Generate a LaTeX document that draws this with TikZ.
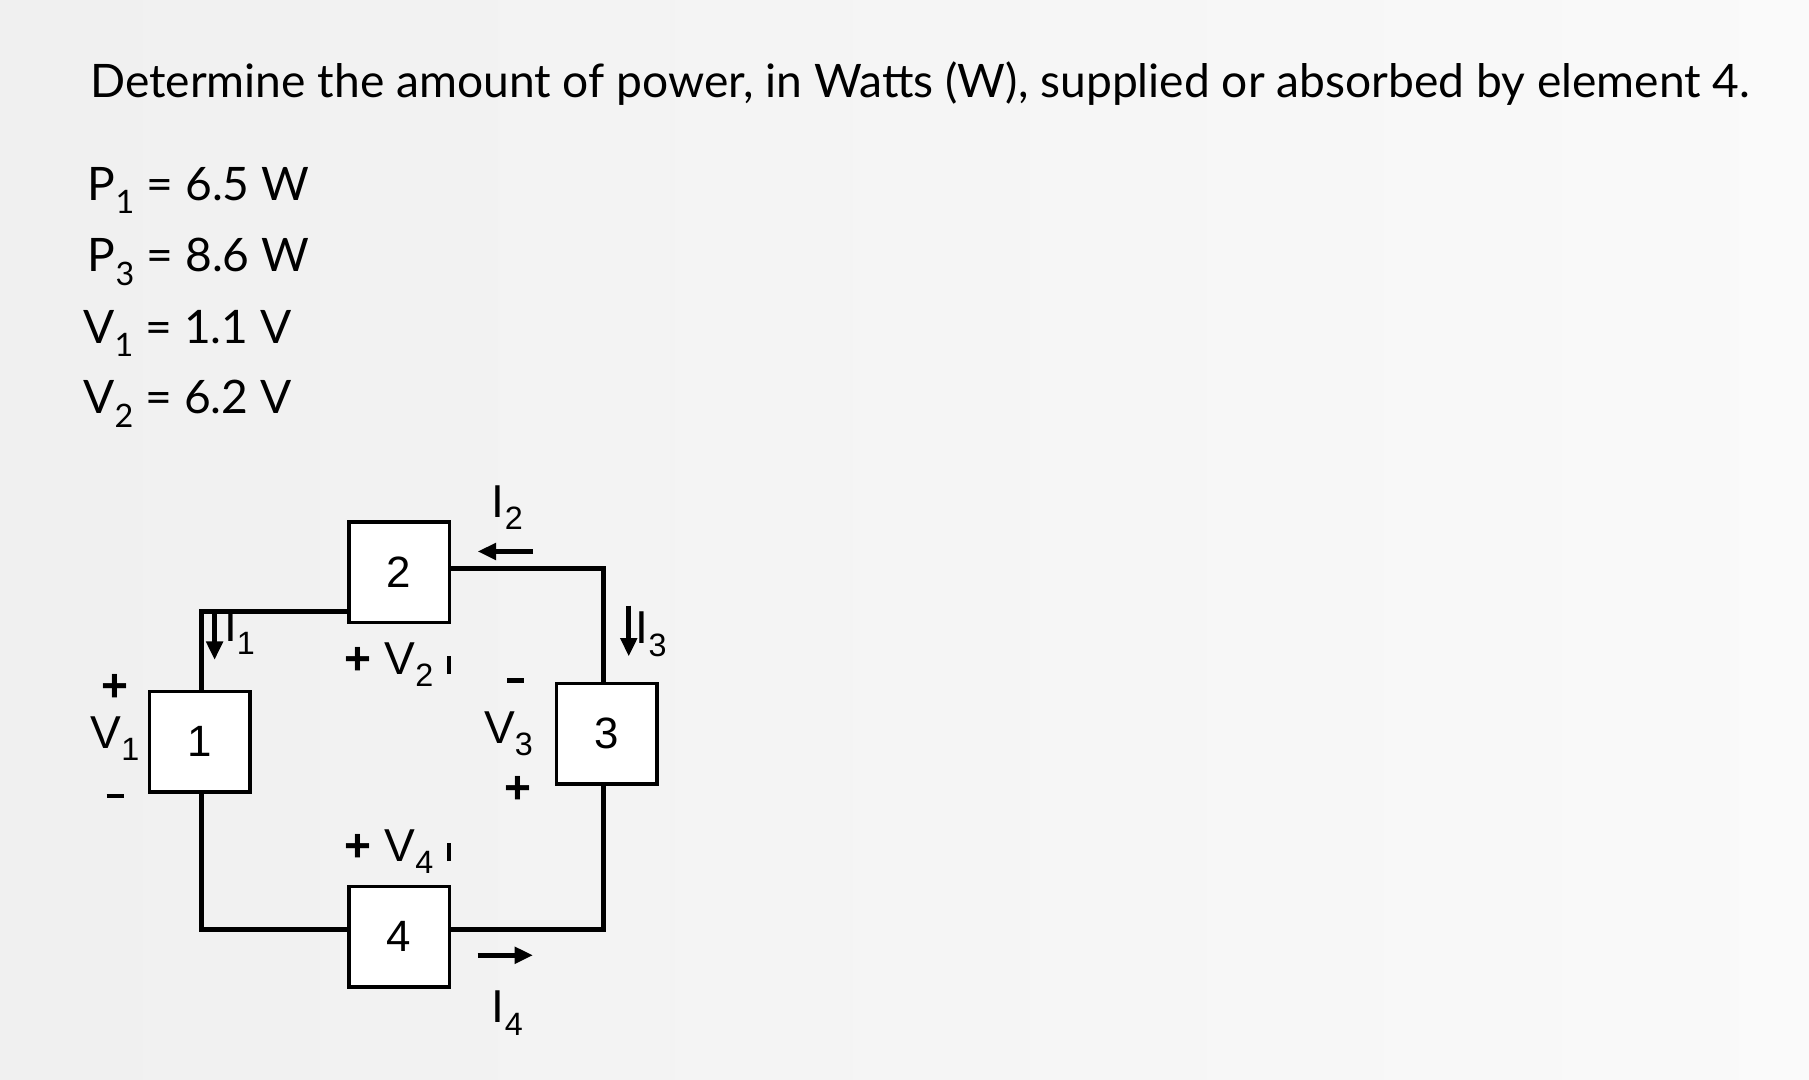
\documentclass[tikz,border=0pt]{standalone}
\usepackage{fontspec}
\setmainfont{Lato}
\newfontfamily\arial{Liberation Sans}
\usetikzlibrary{arrows.meta}
\begin{document}
\begin{tikzpicture}[x=1pt,y=-1pt,
  wire/.style={line width=4.5pt},
  elem/.style={draw,line width=3pt,fill=white,minimum width=87pt,minimum height=87pt,inner sep=0pt,font=\arial\fontsize{38}{42}\selectfont},
  lbl/.style={font=\arial\fontsize{40}{44}\selectfont,inner sep=0pt},
  given/.style={font=\fontsize{40}{46}\selectfont,anchor=west,inner sep=0pt},
  cur/.style={line width=4pt,-{Triangle[length=16pt,width=14pt]}}]
\useasboundingbox (0,0) rectangle (1568,936);
\shade[left color=gray!12,right color=gray!4] (0,0) rectangle (1568,936);
\node[given] (title) at (78,72) {Determine the amount of power, in Watts (W), supplied or absorbed by element 4.};
\node[given] (p1) at (76,165) {P\textsubscript{1} = 6.5 W};
\node[given] (p3) at (76,227) {P\textsubscript{3} = 8.6 W};
\node[given] (v1) at (72,289) {V\textsubscript{1} = 1.1 V};
\node[given] (v2) at (72,350) {V\textsubscript{2} = 6.2 V};
% wires
\coordinate (tl) at (175,530);
\coordinate (bl) at (175,806);
\coordinate (tr) at (523,493);
\coordinate (br) at (523,806);
\node[elem] (e2) at (346,496) {2};
\node[elem] (e1) at (173,643) {1};
\node[elem] (e3) at (526,636) {3};
\node[elem] (e4) at (346,812) {4};
\draw[wire] (e1.north -| tl) -- (tl) -- (tl -| e2.west);
\draw[wire] (e1.south -| tl) -- (bl) -- (bl -| e4.west);
\draw[wire] (tr -| e2.east) -- (tr) -- (e3.north -| tr);
\draw[wire] (e3.south -| br) -- (br) -- (br -| e4.east);
% currents
\coordinate (a1s) at (186,528); \coordinate (a1e) at (186,572);
\draw[cur] (a1s) -- (a1e);
\node[lbl,anchor=west] (i1) at (194,548) {I\textsubscript{1}};
\coordinate (a2s) at (462,478); \coordinate (a2e) at (414,478);
\draw[cur] (a2s) -- (a2e);
\node[lbl] (i2) at (440,440) {I\textsubscript{2}};
\coordinate (a3s) at (545,525); \coordinate (a3e) at (545,569);
\draw[cur] (a3s) -- (a3e);
\node[lbl,anchor=west] (i3) at (551,550) {I\textsubscript{3}};
\coordinate (a4s) at (414,828); \coordinate (a4e) at (462,828);
\draw[cur] (a4s) -- (a4e);
\node[lbl] (i4) at (440,878) {I\textsubscript{4}};
% voltages
\node[lbl] (vv2) at (345,576) {\textbf{+} V\textsubscript{2} \rule{4pt}{16pt}};
\node[lbl] (vv4) at (345,738) {\textbf{+} V\textsubscript{4} \rule{4pt}{16pt}};
\node[lbl] (v3m) at (447,590) {\rule{15pt}{4pt}};
\node[lbl] (vv3) at (441,636) {V\textsubscript{3}};
\node[lbl] (v3p) at (449,685) {\textbf{+}};
\node[lbl] (v1p) at (100,596) {\textbf{+}};
\node[lbl] (vv1) at (100,640) {V\textsubscript{1}};
\node[lbl] (v1m) at (100,690) {\rule{15pt}{4pt}};
\end{tikzpicture}
\end{document}
